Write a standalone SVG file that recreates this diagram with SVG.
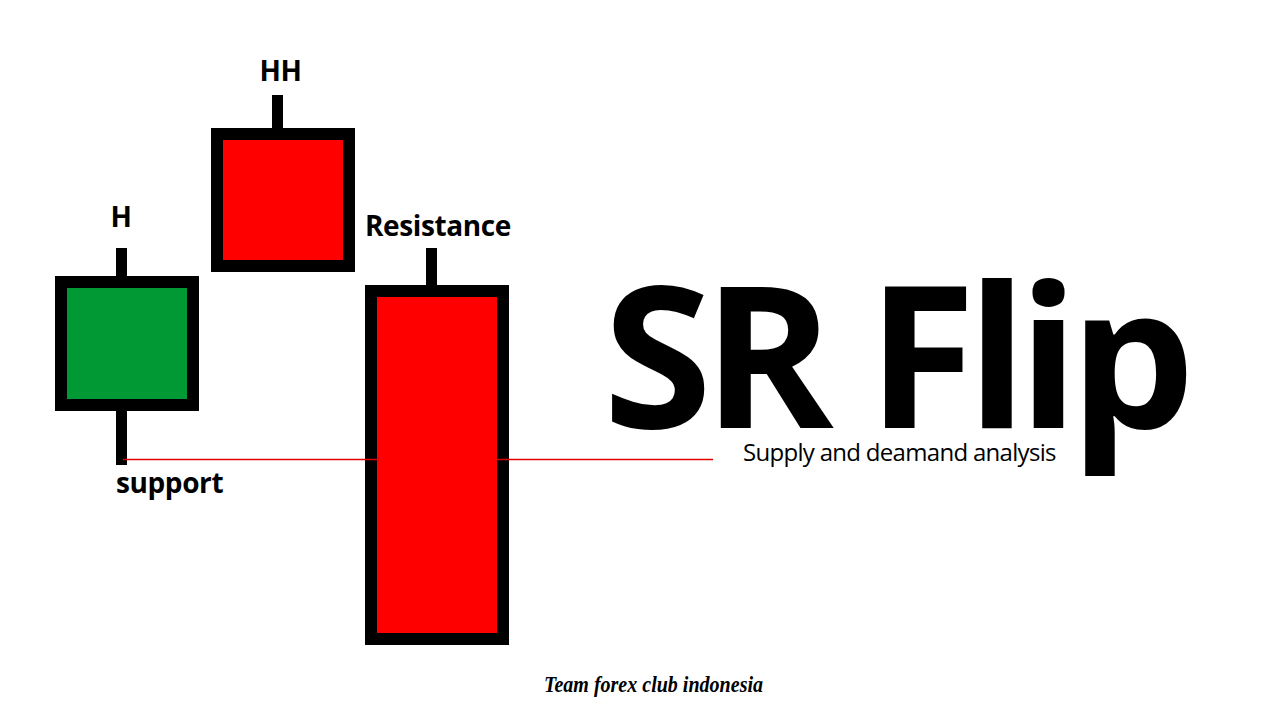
<svg xmlns="http://www.w3.org/2000/svg" width="1280" height="720" viewBox="0 0 1280 720">
<style>
.body{stroke:#000;stroke-width:12}
.wick{fill:#000}
.lbl{font-family:"Open Sans","Noto Sans",sans-serif;font-weight:700;fill:#000;font-size:28px;letter-spacing:-0.4px}
</style>
<rect width="1280" height="720" fill="#fff"/>
<g id="candle-hh">
<rect class="wick" x="272" y="95" width="11" height="35"/>
<rect class="body" x="217" y="134" width="132" height="132" fill="#ff0000"/>
<text class="lbl" x="280.500" y="81" text-anchor="middle">HH</text>
</g>
<g id="candle-h">
<rect class="wick" x="116" y="248" width="11" height="30"/>
<rect class="wick" x="116" y="409" width="11" height="56"/>
<rect class="body" x="61" y="282" width="132" height="123" fill="#009933"/>
<text class="lbl" x="121" y="227" text-anchor="middle">H</text>
<text class="lbl" x="116" y="493">support</text>
</g>
<g id="candle-resistance">
<rect class="wick" x="426" y="248" width="11" height="40"/>
<rect class="body" x="371" y="291" width="132" height="348" fill="#ff0000"/>
<text class="lbl" x="365" y="236">Resistance</text>
</g>
<g id="title">
<text x="603" y="428" font-family="'Open Sans','Noto Sans',sans-serif" font-weight="700" font-size="198" letter-spacing="-9" fill="#000">SR Flip</text>
<text x="743" y="461" font-family="'Open Sans','Noto Sans',sans-serif" font-size="24" letter-spacing="-0.7" fill="#000">Supply and deamand analysis</text>
</g>
<g id="credit">
<text x="544" y="692" font-family="'Liberation Serif',serif" font-style="italic" font-weight="700" font-size="24" textLength="219" lengthAdjust="spacingAndGlyphs" fill="#000">Team forex club indonesia</text>
</g>
<g id="connectors">
<path d="M123 459.500H379M497 459.500H713" stroke="#e00000" stroke-width="1.400" fill="none"/>
</g>
</svg>
